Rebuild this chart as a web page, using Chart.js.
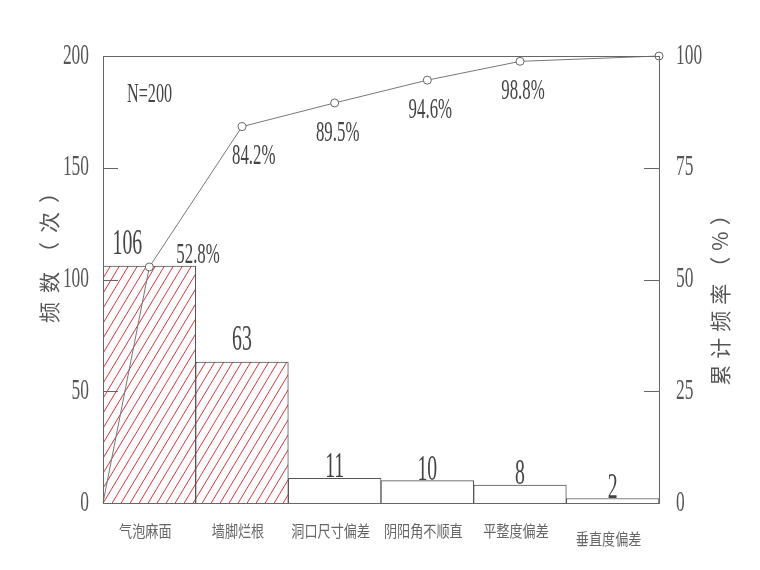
<!DOCTYPE html>
<html>
<head>
<meta charset="utf-8">
<script src="https://cdn.jsdelivr.net/npm/chart.js@4.4.1/dist/chart.umd.min.js"></script>
<style>
    html, body { margin: 0; padding: 0; background: #fff; }
    canvas { display: block; }
</style>
</head>
<body>
<canvas id="pareto" width="760" height="570"></canvas>
<script>
// Data
const categories = ['气泡麻面', '墙脚烂根', '洞口尺寸偏差', '阴阳角不顺直', '平整度偏差', '垂直度偏差'];
const counts = [106, 63, 11, 10, 8, 2];
const cumulative = [0, 52.8, 84.2, 89.5, 94.6, 98.8, 100];
const cumLabels = ['', '52.8%', '84.2%', '89.5%', '94.6%', '98.8%', ''];
const leftTicks = [0, 50, 100, 150, 200];
const rightTicks = [0, 25, 50, 75, 100];
const totalText = 'N=200';
const leftTitle = '频数（次）';
const rightTitle = '累计频率（%）';

const NUM_FONT = '"Liberation Serif", serif';
const CJK_FONT = '"Noto Sans CJK SC", sans-serif';
const INK = '#555';

// red diagonal hatch
function makeHatch() {
    const w = 9, h = 15;
    const c = document.createElement('canvas');
    c.width = w; c.height = h;
    const g = c.getContext('2d');
    g.fillStyle = '#fff';
    g.fillRect(0, 0, w, h);
    g.strokeStyle = '#cc3a40';
    g.lineWidth = 1;
    [-w, 0, w].forEach(dx => {
        g.beginPath();
        g.moveTo(dx, h);
        g.lineTo(dx + w, 0);
        g.stroke();
    });
    return g.createPattern(c, 'repeat');
}
const hatch = makeHatch();

// line x positions derived from category index (origin, bar centres, right edge)
const lineData = cumulative.map((v, i) => ({
    x: i === 0 ? 0 : (i === cumulative.length - 1 ? categories.length : i - 0.5),
    y: v
}));

// narrow text, like the scanned original
function narrowText(ctx, text, x, y, font, align, sx) {
    ctx.save();
    ctx.font = font;
    ctx.translate(x, y);
    ctx.scale(sx, 1);
    ctx.textAlign = align;
    ctx.fillText(text, 0, 0);
    ctx.restore();
}
const num = size => size + 'px ' + NUM_FONT;

const decorPlugin = {
    id: 'decor',
    afterDatasetsDraw(chart) {
        const { ctx, chartArea: a, scales } = chart;
        ctx.save();

        // frame
        ctx.strokeStyle = '#666';
        ctx.lineWidth = 1;
        ctx.strokeRect(a.left + 0.5, a.top + 0.5, a.right - a.left, a.bottom - a.top);

        // inward ticks
        ctx.beginPath();
        leftTicks.slice(1, -1).forEach(v => {
            const y = Math.round(scales.y.getPixelForValue(v)) + 0.5;
            ctx.moveTo(a.left, y); ctx.lineTo(a.left + 15, y);
        });
        rightTicks.slice(1, -1).forEach(v => {
            const y = Math.round(scales.y2.getPixelForValue(v)) + 0.5;
            ctx.moveTo(a.right - 15, y); ctx.lineTo(a.right, y);
        });
        ctx.stroke();

        // tick labels
        ctx.fillStyle = INK;
        ctx.textBaseline = 'middle';
        leftTicks.forEach(v => {
            narrowText(ctx, String(v), a.left - 14, scales.y.getPixelForValue(v), num(29), 'right', 0.6);
        });
        rightTicks.forEach(v => {
            narrowText(ctx, String(v), a.right + 17, scales.y2.getPixelForValue(v), num(29), 'left', 0.6);
        });

        // category labels
        ctx.fillStyle = '#666';
        categories.forEach((c, i) => {
            const x = scales.x.getPixelForValue(i) - 4;
            const y = i === categories.length - 1 ? 539 : 531;
            narrowText(ctx, c, x, y, '16px ' + CJK_FONT, 'center', 0.82);
        });

        // bar value labels
        ctx.fillStyle = '#444';
        ctx.textBaseline = 'alphabetic';
        const bars = chart.getDatasetMeta(0).data;
        bars.forEach((bar, i) => {
            const dx = i === 0 ? -22 : 0;
            const gap = counts[i] > 50 ? 12 : 1;
            narrowText(ctx, String(counts[i]), bar.x + dx, bar.y - gap, num(36), 'center', 0.55);
        });

        // cumulative labels
        const pts = chart.getDatasetMeta(1).data;
        pts.forEach((p, i) => {
            const t = cumLabels[i];
            if (!t) return;
            if (i === 1) {
                narrowText(ctx, t, p.x + 27, p.y - 4, num(29), 'left', 0.58);
            } else if (i === 2) {
                narrowText(ctx, t, p.x - 10, p.y + 37, num(29), 'left', 0.58);
            } else {
                narrowText(ctx, t, p.x + 3, p.y + 38, num(29), 'center', 0.58);
            }
        });

        // N=200
        narrowText(ctx, totalText, a.left + 24, a.top + 46, num(27), 'left', 0.6);

        // axis titles
        ctx.fillStyle = INK;
        ctx.font = '21px ' + CJK_FONT;
        ctx.textAlign = 'center';
        ctx.textBaseline = 'middle';
        ctx.save();
        ctx.letterSpacing = '9px';
        ctx.translate(49, 248);
        ctx.rotate(-Math.PI / 2);
        ctx.fillText(leftTitle, 0, 0);
        ctx.restore();
        ctx.save();
        ctx.letterSpacing = '6px';
        ctx.translate(720, 292);
        ctx.rotate(-Math.PI / 2);
        ctx.fillText(rightTitle, 0, 0);
        ctx.restore();

        ctx.restore();
    }
};

new Chart(document.getElementById('pareto'), {
    data: {
        labels: categories,
        datasets: [{
            type: 'bar',
            data: counts,
            backgroundColor: counts.map((v, i) => i < 2 ? hatch : '#fff'),
            borderColor: '#555',
            borderWidth: 1,
            barPercentage: 1,
            categoryPercentage: 1,
            grouped: false,
            xAxisID: 'x',
            yAxisID: 'y',
            order: 2
        }, {
            type: 'line',
            data: lineData,
            borderColor: '#777',
            borderWidth: 1,
            pointRadius: ctx => ctx.dataIndex === 0 ? 0 : 4,
            pointBackgroundColor: '#fff',
            pointBorderColor: '#666',
            pointBorderWidth: 1,
            tension: 0,
            clip: false,
            xAxisID: 'x2',
            yAxisID: 'y2',
            order: 1
        }]
    },
    options: {
        responsive: false,
        animation: false,
        events: [],
        layout: { padding: { top: 56, left: 0, right: 0, bottom: 0 } },
        plugins: {
            legend: { display: false },
            tooltip: { enabled: false }
        },
        scales: {
            x: {
                type: 'category',
                grid: { display: false },
                border: { display: false },
                ticks: { display: false },
                afterFit: s => { s.height = 67; }
            },
            x2: {
                type: 'linear',
                display: false,
                min: 0,
                max: categories.length
            },
            y: {
                position: 'left',
                min: 0,
                max: 200,
                grid: { display: false },
                border: { display: false },
                ticks: { display: false },
                afterFit: s => { s.width = 103; }
            },
            y2: {
                position: 'right',
                min: 0,
                max: 100,
                grid: { display: false },
                border: { display: false },
                ticks: { display: false },
                afterFit: s => { s.width = 101; }
            }
        }
    },
    plugins: [decorPlugin]
});
</script>
</body>
</html>
